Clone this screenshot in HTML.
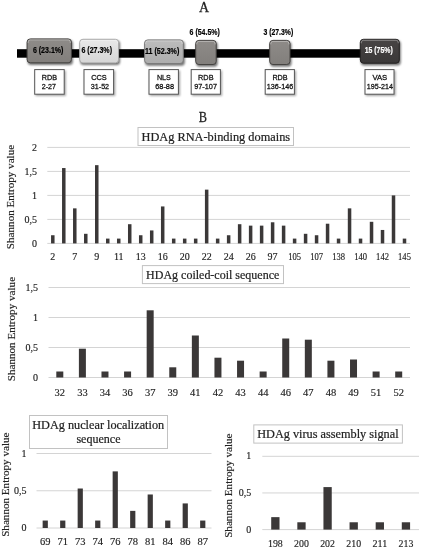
<!DOCTYPE html>
<html><head><meta charset="utf-8"><title>Figure</title>
<style>
html,body{margin:0;padding:0;background:#fff;}
body{width:422px;height:550px;overflow:hidden;}
svg{display:block;}
.s{font-family:"Liberation Serif","DejaVu Serif",serif;fill:#222;}
.t{stroke:#222;stroke-width:0.15px;}
.t2{stroke:#222;stroke-width:0.22px;}
.h{font-family:"Liberation Sans","DejaVu Sans",sans-serif;fill:#222;}
</style></head><body>
<svg width="422" height="550" viewBox="0 0 422 550">
<defs>
<linearGradient id="g1" x1="0" y1="0" x2="0" y2="1"><stop offset="0" stop-color="#8e8b88"/><stop offset="1" stop-color="#827f7c"/></linearGradient>
<linearGradient id="g2" x1="0" y1="0" x2="0" y2="1"><stop offset="0" stop-color="#e8e8e8"/><stop offset="1" stop-color="#d6d6d6"/></linearGradient>
<linearGradient id="g3" x1="0" y1="0" x2="0" y2="1"><stop offset="0" stop-color="#bcbcbc"/><stop offset="1" stop-color="#adadad"/></linearGradient>
<linearGradient id="g4" x1="0" y1="0" x2="0" y2="1"><stop offset="0" stop-color="#8e8b88"/><stop offset="1" stop-color="#827f7c"/></linearGradient>
<linearGradient id="g6" x1="0" y1="0" x2="0" y2="1"><stop offset="0" stop-color="#474444"/><stop offset="1" stop-color="#3b3939"/></linearGradient>
<filter id="sh" x="-10%" y="-10%" width="130%" height="140%"><feGaussianBlur stdDeviation="1.2"/></filter>
<filter id="sh2" x="-10%" y="-10%" width="130%" height="140%"><feGaussianBlur stdDeviation="0.9"/></filter>
</defs>
<rect width="422" height="550" fill="#fff"/>

<text class="s" transform="translate(198.9,11.8) scale(0.92,1)" font-size="15.2" style="stroke:#222;stroke-width:0.3">A</text>
<rect x="17" y="49.2" width="345" height="8.5" fill="#000"/>
<rect x="27.6" y="40.1" width="45.300000000000004" height="24.9" rx="3.5" fill="#000" opacity="0.55" filter="url(#sh2)"/>
<rect x="27.1" y="38.9" width="44.300000000000004" height="23.9" rx="3.2" fill="url(#g1)" stroke="#454341" stroke-width="1"/>
<path d="M28.200000000000003,42.9 v-1 a2,2 0 0 1 2,-2 h38.1 a2,2 0 0 1 2,2 v1" fill="none" stroke="#fff" stroke-opacity="0.4" stroke-width="0.9"/>
<text class="h" x="32.9" y="52.8" font-size="8.4" font-weight="bold" textLength="30.5" lengthAdjust="spacingAndGlyphs" style="fill:#000;stroke:#000;stroke-width:0.18">6 (23.1%)</text>
<rect x="80.2" y="40.5" width="39.89999999999999" height="24.6" rx="3.5" fill="#000" opacity="0.55" filter="url(#sh2)"/>
<rect x="79.7" y="39.3" width="38.89999999999999" height="23.6" rx="3.2" fill="url(#g2)" stroke="#a8a8a8" stroke-width="1"/>
<path d="M80.8,43.3 v-1 a2,2 0 0 1 2,-2 h32.69999999999999 a2,2 0 0 1 2,2 v1" fill="none" stroke="#fff" stroke-opacity="0.4" stroke-width="0.9"/>
<text class="h" x="81.4" y="52.8" font-size="8.4" font-weight="bold" textLength="30.6" lengthAdjust="spacingAndGlyphs" style="fill:#000;stroke:#000;stroke-width:0.18">6 (27.3%)</text>
<rect x="145.1" y="41.1" width="39.70000000000002" height="24.6" rx="3.5" fill="#000" opacity="0.55" filter="url(#sh2)"/>
<rect x="144.6" y="39.9" width="38.70000000000002" height="23.6" rx="3.2" fill="url(#g3)" stroke="#7a7a7a" stroke-width="1"/>
<path d="M145.7,43.9 v-1 a2,2 0 0 1 2,-2 h32.500000000000014 a2,2 0 0 1 2,2 v1" fill="none" stroke="#fff" stroke-opacity="0.4" stroke-width="0.9"/>
<text class="h" x="145.0" y="53.8" font-size="8.4" font-weight="bold" textLength="34.3" lengthAdjust="spacingAndGlyphs" style="fill:#000;stroke:#000;stroke-width:0.18">11 (52.3%)</text>
<rect x="196.2" y="41.6" width="21.5" height="25.1" rx="3.5" fill="#000" opacity="0.55" filter="url(#sh2)"/>
<rect x="195.7" y="40.4" width="20.5" height="24.1" rx="3.2" fill="url(#g4)" stroke="#454341" stroke-width="1"/>
<path d="M196.79999999999998,44.4 v-1 a2,2 0 0 1 2,-2 h14.3 a2,2 0 0 1 2,2 v1" fill="none" stroke="#fff" stroke-opacity="0.4" stroke-width="0.9"/>
<rect x="270.2" y="41.6" width="21.30000000000001" height="25.1" rx="3.5" fill="#000" opacity="0.55" filter="url(#sh2)"/>
<rect x="269.7" y="40.4" width="20.30000000000001" height="24.1" rx="3.2" fill="url(#g4)" stroke="#454341" stroke-width="1"/>
<path d="M270.8,44.4 v-1 a2,2 0 0 1 2,-2 h14.100000000000012 a2,2 0 0 1 2,2 v1" fill="none" stroke="#fff" stroke-opacity="0.4" stroke-width="0.9"/>
<rect x="360.8" y="40.5" width="40.0" height="24.900000000000006" rx="3.5" fill="#000" opacity="0.55" filter="url(#sh2)"/>
<rect x="360.3" y="39.3" width="39.0" height="23.900000000000006" rx="3.2" fill="url(#g6)" stroke="#242222" stroke-width="1"/>
<path d="M361.40000000000003,43.3 v-1 a2,2 0 0 1 2,-2 h32.8 a2,2 0 0 1 2,2 v1" fill="none" stroke="#fff" stroke-opacity="0.4" stroke-width="0.9"/>
<text class="h" x="364.7" y="53.3" font-size="8.4" font-weight="bold" textLength="28.0" lengthAdjust="spacingAndGlyphs" style="fill:#fff;stroke:#fff;stroke-width:0.18">15 (75%)</text>
<text class="h" x="189.6" y="35" font-size="8.4" font-weight="bold" textLength="30.2" lengthAdjust="spacingAndGlyphs" style="fill:#000;stroke:#000;stroke-width:0.18">6 (54.5%)</text>
<text class="h" x="263.5" y="35" font-size="8.4" font-weight="bold" textLength="29.7" lengthAdjust="spacingAndGlyphs" style="fill:#000;stroke:#000;stroke-width:0.18">3 (27.3%)</text>
<rect x="35.400000000000006" y="70.6" width="30.5" height="25.4" fill="#000" opacity="0.35" filter="url(#sh)"/>
<rect x="34.7" y="69.6" width="29.5" height="24.6" fill="#fff" stroke="#555" stroke-width="1"/>
<text class="h" x="41.8" y="79.9" font-size="8" textLength="15.2" lengthAdjust="spacingAndGlyphs" style="fill:#111;stroke:#111;stroke-width:0.28">RDB</text>
<text class="h" x="41.8" y="88.5" font-size="8" textLength="14.2" lengthAdjust="spacingAndGlyphs" style="fill:#111;stroke:#111;stroke-width:0.28">2-27</text>
<rect x="84.7" y="70.6" width="30.599999999999994" height="25.4" fill="#000" opacity="0.35" filter="url(#sh)"/>
<rect x="84.0" y="69.6" width="29.599999999999994" height="24.6" fill="#fff" stroke="#555" stroke-width="1"/>
<text class="h" x="91.2" y="79.9" font-size="8" textLength="15.6" lengthAdjust="spacingAndGlyphs" style="fill:#111;stroke:#111;stroke-width:0.28">CCS</text>
<text class="h" x="90.8" y="88.5" font-size="8" textLength="18.3" lengthAdjust="spacingAndGlyphs" style="fill:#111;stroke:#111;stroke-width:0.28">31-52</text>
<rect x="149.7" y="70.6" width="30.400000000000006" height="25.4" fill="#000" opacity="0.35" filter="url(#sh)"/>
<rect x="149.0" y="69.6" width="29.400000000000006" height="24.6" fill="#fff" stroke="#555" stroke-width="1"/>
<text class="h" x="156.9" y="79.9" font-size="8" textLength="13.9" lengthAdjust="spacingAndGlyphs" style="fill:#111;stroke:#111;stroke-width:0.28">NLS</text>
<text class="h" x="155.2" y="88.5" font-size="8" textLength="18.9" lengthAdjust="spacingAndGlyphs" style="fill:#111;stroke:#111;stroke-width:0.28">68-88</text>
<rect x="191.89999999999998" y="70.6" width="30.200000000000017" height="25.4" fill="#000" opacity="0.35" filter="url(#sh)"/>
<rect x="191.2" y="69.6" width="29.200000000000017" height="24.6" fill="#fff" stroke="#555" stroke-width="1"/>
<text class="h" x="198.1" y="79.9" font-size="8" textLength="15.4" lengthAdjust="spacingAndGlyphs" style="fill:#111;stroke:#111;stroke-width:0.28">RDB</text>
<text class="h" x="194.2" y="88.5" font-size="8" textLength="22.8" lengthAdjust="spacingAndGlyphs" style="fill:#111;stroke:#111;stroke-width:0.28">97-107</text>
<rect x="265.9" y="70.6" width="30.19999999999999" height="25.4" fill="#000" opacity="0.35" filter="url(#sh)"/>
<rect x="265.2" y="69.6" width="29.19999999999999" height="24.6" fill="#fff" stroke="#555" stroke-width="1"/>
<text class="h" x="272.4" y="79.9" font-size="8" textLength="15.2" lengthAdjust="spacingAndGlyphs" style="fill:#111;stroke:#111;stroke-width:0.28">RDB</text>
<text class="h" x="266.8" y="88.5" font-size="8" textLength="26.4" lengthAdjust="spacingAndGlyphs" style="fill:#111;stroke:#111;stroke-width:0.28">136-146</text>
<rect x="365.7" y="70.6" width="30.0" height="25.4" fill="#000" opacity="0.35" filter="url(#sh)"/>
<rect x="365.0" y="69.6" width="29.0" height="24.6" fill="#fff" stroke="#555" stroke-width="1"/>
<text class="h" x="372.4" y="79.9" font-size="8" textLength="14.8" lengthAdjust="spacingAndGlyphs" style="fill:#111;stroke:#111;stroke-width:0.28">VAS</text>
<text class="h" x="366.8" y="88.5" font-size="8" textLength="26.1" lengthAdjust="spacingAndGlyphs" style="fill:#111;stroke:#111;stroke-width:0.28">195-214</text>
<text class="s" transform="translate(198.7,122.3) scale(0.8,1)" font-size="15.4" style="stroke:#222;stroke-width:0.3">B</text>
<line x1="47.3" x2="410" y1="243.40" y2="243.40" stroke="#d4d4d4" stroke-width="1"/>
<text class="s t" x="37" y="246.50" font-size="10" text-anchor="end">0</text>
<line x1="47.3" x2="410" y1="219.40" y2="219.40" stroke="#d4d4d4" stroke-width="1"/>
<text class="s t" x="37" y="222.50" font-size="10" text-anchor="end">0,5</text>
<line x1="47.3" x2="410" y1="195.40" y2="195.40" stroke="#d4d4d4" stroke-width="1"/>
<text class="s t" x="37" y="198.50" font-size="10" text-anchor="end">1</text>
<line x1="47.3" x2="410" y1="171.40" y2="171.40" stroke="#d4d4d4" stroke-width="1"/>
<text class="s t" x="37" y="174.50" font-size="10" text-anchor="end">1,5</text>
<line x1="47.3" x2="410" y1="147.40" y2="147.40" stroke="#d4d4d4" stroke-width="1"/>
<text class="s t" x="37" y="150.50" font-size="10" text-anchor="end">2</text>
<rect x="51.05" y="235.24" width="3.5" height="8.16" fill="#3b3838"/>
<text class="s t" x="52.80" y="259.80" font-size="10" text-anchor="middle">2</text>
<rect x="62.04" y="168.04" width="3.5" height="75.36" fill="#3b3838"/>
<rect x="73.03" y="208.36" width="3.5" height="35.04" fill="#3b3838"/>
<text class="s t" x="74.78" y="259.80" font-size="10" text-anchor="middle">7</text>
<rect x="84.02" y="233.80" width="3.5" height="9.60" fill="#3b3838"/>
<rect x="95.01" y="165.16" width="3.5" height="78.24" fill="#3b3838"/>
<text class="s t" x="96.76" y="259.80" font-size="10" text-anchor="middle">9</text>
<rect x="106.00" y="238.60" width="3.5" height="4.80" fill="#3b3838"/>
<rect x="116.99" y="238.60" width="3.5" height="4.80" fill="#3b3838"/>
<text class="s t" x="118.74" y="259.80" font-size="10" text-anchor="middle">11</text>
<rect x="127.98" y="224.20" width="3.5" height="19.20" fill="#3b3838"/>
<rect x="138.97" y="235.24" width="3.5" height="8.16" fill="#3b3838"/>
<text class="s t" x="140.72" y="259.80" font-size="10" text-anchor="middle">13</text>
<rect x="149.96" y="230.44" width="3.5" height="12.96" fill="#3b3838"/>
<rect x="160.95" y="206.44" width="3.5" height="36.96" fill="#3b3838"/>
<text class="s t" x="162.70" y="259.80" font-size="10" text-anchor="middle">16</text>
<rect x="171.95" y="238.60" width="3.5" height="4.80" fill="#3b3838"/>
<rect x="182.94" y="238.60" width="3.5" height="4.80" fill="#3b3838"/>
<text class="s t" x="184.69" y="259.80" font-size="10" text-anchor="middle">20</text>
<rect x="193.93" y="238.60" width="3.5" height="4.80" fill="#3b3838"/>
<rect x="204.92" y="189.64" width="3.5" height="53.76" fill="#3b3838"/>
<text class="s t" x="206.67" y="259.80" font-size="10" text-anchor="middle">22</text>
<rect x="215.91" y="238.60" width="3.5" height="4.80" fill="#3b3838"/>
<rect x="226.90" y="235.24" width="3.5" height="8.16" fill="#3b3838"/>
<text class="s t" x="228.65" y="259.80" font-size="10" text-anchor="middle">24</text>
<rect x="237.89" y="224.20" width="3.5" height="19.20" fill="#3b3838"/>
<rect x="248.88" y="225.64" width="3.5" height="17.76" fill="#3b3838"/>
<text class="s t" x="250.63" y="259.80" font-size="10" text-anchor="middle">26</text>
<rect x="259.87" y="225.64" width="3.5" height="17.76" fill="#3b3838"/>
<rect x="270.86" y="222.28" width="3.5" height="21.12" fill="#3b3838"/>
<text class="s t" x="272.61" y="259.80" font-size="10" text-anchor="middle">97</text>
<rect x="281.85" y="225.64" width="3.5" height="17.76" fill="#3b3838"/>
<rect x="292.85" y="238.60" width="3.5" height="4.80" fill="#3b3838"/>
<text class="s t" x="294.60" y="259.80" font-size="10" text-anchor="middle" textLength="12.8" lengthAdjust="spacingAndGlyphs">105</text>
<rect x="303.84" y="233.80" width="3.5" height="9.60" fill="#3b3838"/>
<rect x="314.83" y="235.24" width="3.5" height="8.16" fill="#3b3838"/>
<text class="s t" x="316.58" y="259.80" font-size="10" text-anchor="middle" textLength="12.8" lengthAdjust="spacingAndGlyphs">107</text>
<rect x="325.82" y="223.72" width="3.5" height="19.68" fill="#3b3838"/>
<rect x="336.81" y="238.60" width="3.5" height="4.80" fill="#3b3838"/>
<text class="s t" x="338.56" y="259.80" font-size="10" text-anchor="middle" textLength="12.8" lengthAdjust="spacingAndGlyphs">138</text>
<rect x="347.80" y="208.36" width="3.5" height="35.04" fill="#3b3838"/>
<rect x="358.79" y="238.60" width="3.5" height="4.80" fill="#3b3838"/>
<text class="s t" x="360.54" y="259.80" font-size="10" text-anchor="middle" textLength="12.8" lengthAdjust="spacingAndGlyphs">140</text>
<rect x="369.78" y="221.80" width="3.5" height="21.60" fill="#3b3838"/>
<rect x="380.77" y="229.96" width="3.5" height="13.44" fill="#3b3838"/>
<text class="s t" x="382.52" y="259.80" font-size="10" text-anchor="middle" textLength="12.8" lengthAdjust="spacingAndGlyphs">142</text>
<rect x="391.76" y="195.40" width="3.5" height="48.00" fill="#3b3838"/>
<rect x="402.75" y="238.60" width="3.5" height="4.80" fill="#3b3838"/>
<text class="s t" x="404.50" y="259.80" font-size="10" text-anchor="middle" textLength="12.8" lengthAdjust="spacingAndGlyphs">145</text>
<rect x="138" y="127.5" width="155.5" height="18" fill="#fff" stroke="#c2c2c2" stroke-width="1"/>
<text class="s t2" x="141.5" y="141.0" font-size="13" textLength="148.6" lengthAdjust="spacingAndGlyphs">HDAg RNA-binding domains</text>
<text class="s t" transform="translate(14,197) rotate(-90)" font-size="10" text-anchor="middle" textLength="104.3" lengthAdjust="spacingAndGlyphs">Shannon Entropy value</text>
<line x1="48.5" x2="410" y1="377.50" y2="377.50" stroke="#d4d4d4" stroke-width="1"/>
<text class="s t" x="38" y="380.60" font-size="10" text-anchor="end">0</text>
<line x1="48.5" x2="410" y1="347.50" y2="347.50" stroke="#d4d4d4" stroke-width="1"/>
<text class="s t" x="38" y="350.60" font-size="10" text-anchor="end">0,5</text>
<line x1="48.5" x2="410" y1="317.50" y2="317.50" stroke="#d4d4d4" stroke-width="1"/>
<text class="s t" x="38" y="320.60" font-size="10" text-anchor="end">1</text>
<line x1="48.5" x2="410" y1="287.50" y2="287.50" stroke="#d4d4d4" stroke-width="1"/>
<text class="s t" x="38" y="290.60" font-size="10" text-anchor="end">1,5</text>
<rect x="56.30" y="371.50" width="7" height="6.00" fill="#3b3838"/>
<text class="s t" x="59.80" y="395.70" font-size="10.5" text-anchor="middle">32</text>
<rect x="78.89" y="348.70" width="7" height="28.80" fill="#3b3838"/>
<text class="s t" x="82.39" y="395.70" font-size="10.5" text-anchor="middle">33</text>
<rect x="101.48" y="371.50" width="7" height="6.00" fill="#3b3838"/>
<text class="s t" x="104.98" y="395.70" font-size="10.5" text-anchor="middle">34</text>
<rect x="124.08" y="371.50" width="7" height="6.00" fill="#3b3838"/>
<text class="s t" x="127.58" y="395.70" font-size="10.5" text-anchor="middle">36</text>
<rect x="146.67" y="310.30" width="7" height="67.20" fill="#3b3838"/>
<text class="s t" x="150.17" y="395.70" font-size="10.5" text-anchor="middle">37</text>
<rect x="169.27" y="367.30" width="7" height="10.20" fill="#3b3838"/>
<text class="s t" x="172.77" y="395.70" font-size="10.5" text-anchor="middle">39</text>
<rect x="191.86" y="335.50" width="7" height="42.00" fill="#3b3838"/>
<text class="s t" x="195.36" y="395.70" font-size="10.5" text-anchor="middle">41</text>
<rect x="214.45" y="357.70" width="7" height="19.80" fill="#3b3838"/>
<text class="s t" x="217.95" y="395.70" font-size="10.5" text-anchor="middle">42</text>
<rect x="237.05" y="360.70" width="7" height="16.80" fill="#3b3838"/>
<text class="s t" x="240.55" y="395.70" font-size="10.5" text-anchor="middle">43</text>
<rect x="259.64" y="371.50" width="7" height="6.00" fill="#3b3838"/>
<text class="s t" x="263.14" y="395.70" font-size="10.5" text-anchor="middle">44</text>
<rect x="282.23" y="338.50" width="7" height="39.00" fill="#3b3838"/>
<text class="s t" x="285.73" y="395.70" font-size="10.5" text-anchor="middle">46</text>
<rect x="304.83" y="339.70" width="7" height="37.80" fill="#3b3838"/>
<text class="s t" x="308.33" y="395.70" font-size="10.5" text-anchor="middle">47</text>
<rect x="327.42" y="360.70" width="7" height="16.80" fill="#3b3838"/>
<text class="s t" x="330.92" y="395.70" font-size="10.5" text-anchor="middle">48</text>
<rect x="350.02" y="359.50" width="7" height="18.00" fill="#3b3838"/>
<text class="s t" x="353.52" y="395.70" font-size="10.5" text-anchor="middle">49</text>
<rect x="372.61" y="371.50" width="7" height="6.00" fill="#3b3838"/>
<text class="s t" x="376.11" y="395.70" font-size="10.5" text-anchor="middle">51</text>
<rect x="395.20" y="371.50" width="7" height="6.00" fill="#3b3838"/>
<text class="s t" x="398.70" y="395.70" font-size="10.5" text-anchor="middle">52</text>
<rect x="142.4" y="265.6" width="141.1" height="18" fill="#fff" stroke="#c2c2c2" stroke-width="1"/>
<text class="s t2" x="146.1" y="279" font-size="13" textLength="133.2" lengthAdjust="spacingAndGlyphs">HDAg coiled-coil sequence</text>
<text class="s t" transform="translate(14.8,329.1) rotate(-90)" font-size="10" text-anchor="middle" textLength="104.3" lengthAdjust="spacingAndGlyphs">Shannon Entropy value</text>
<line x1="36.5" x2="211.5" y1="528.00" y2="528.00" stroke="#d4d4d4" stroke-width="1"/>
<text class="s t" x="26.5" y="531.10" font-size="10" text-anchor="end">0</text>
<line x1="36.5" x2="211.5" y1="490.75" y2="490.75" stroke="#d4d4d4" stroke-width="1"/>
<text class="s t" x="26.5" y="493.85" font-size="10" text-anchor="end">0,5</text>
<line x1="36.5" x2="211.5" y1="453.50" y2="453.50" stroke="#d4d4d4" stroke-width="1"/>
<text class="s t" x="26.5" y="456.60" font-size="10" text-anchor="end">1</text>
<rect x="42.65" y="520.55" width="5.2" height="7.45" fill="#3b3838"/>
<text class="s t" x="45.25" y="545.00" font-size="10.5" text-anchor="middle">69</text>
<rect x="60.15" y="520.55" width="5.2" height="7.45" fill="#3b3838"/>
<text class="s t" x="62.75" y="545.00" font-size="10.5" text-anchor="middle">71</text>
<rect x="77.65" y="488.51" width="5.2" height="39.48" fill="#3b3838"/>
<text class="s t" x="80.25" y="545.00" font-size="10.5" text-anchor="middle">73</text>
<rect x="95.15" y="520.55" width="5.2" height="7.45" fill="#3b3838"/>
<text class="s t" x="97.75" y="545.00" font-size="10.5" text-anchor="middle">74</text>
<rect x="112.65" y="471.38" width="5.2" height="56.62" fill="#3b3838"/>
<text class="s t" x="115.25" y="545.00" font-size="10.5" text-anchor="middle">76</text>
<rect x="130.15" y="510.87" width="5.2" height="17.14" fill="#3b3838"/>
<text class="s t" x="132.75" y="545.00" font-size="10.5" text-anchor="middle">78</text>
<rect x="147.65" y="494.48" width="5.2" height="33.52" fill="#3b3838"/>
<text class="s t" x="150.25" y="545.00" font-size="10.5" text-anchor="middle">81</text>
<rect x="165.15" y="520.55" width="5.2" height="7.45" fill="#3b3838"/>
<text class="s t" x="167.75" y="545.00" font-size="10.5" text-anchor="middle">84</text>
<rect x="182.65" y="503.42" width="5.2" height="24.59" fill="#3b3838"/>
<text class="s t" x="185.25" y="545.00" font-size="10.5" text-anchor="middle">86</text>
<rect x="200.15" y="520.55" width="5.2" height="7.45" fill="#3b3838"/>
<text class="s t" x="202.75" y="545.00" font-size="10.5" text-anchor="middle">87</text>
<rect x="29.5" y="415.5" width="138" height="33" fill="#fff" stroke="#c2c2c2" stroke-width="1"/>
<text class="s t2" x="32.2" y="428.6" font-size="13" textLength="132.0" lengthAdjust="spacingAndGlyphs">HDAg nuclear localization</text>
<text class="s t2" x="76.4" y="443.2" font-size="13" textLength="44.1" lengthAdjust="spacingAndGlyphs">sequence</text>
<text class="s t" transform="translate(9,484.7) rotate(-90)" font-size="10" text-anchor="middle" textLength="104.3" lengthAdjust="spacingAndGlyphs">Shannon Entropy value</text>
<line x1="262.3" x2="419" y1="529.60" y2="529.60" stroke="#d4d4d4" stroke-width="1"/>
<text class="s t" x="251.3" y="532.70" font-size="10" text-anchor="end">0</text>
<line x1="262.3" x2="419" y1="492.95" y2="492.95" stroke="#d4d4d4" stroke-width="1"/>
<text class="s t" x="251.3" y="496.05" font-size="10" text-anchor="end">0,5</text>
<line x1="262.3" x2="419" y1="456.30" y2="456.30" stroke="#d4d4d4" stroke-width="1"/>
<text class="s t" x="251.3" y="459.40" font-size="10" text-anchor="end">1</text>
<rect x="271.21" y="517.14" width="8.3" height="12.46" fill="#3b3838"/>
<text class="s t" x="275.36" y="547.00" font-size="10.5" text-anchor="middle" textLength="14.8" lengthAdjust="spacingAndGlyphs">198</text>
<rect x="297.33" y="522.27" width="8.3" height="7.33" fill="#3b3838"/>
<text class="s t" x="301.48" y="547.00" font-size="10.5" text-anchor="middle" textLength="14.8" lengthAdjust="spacingAndGlyphs">200</text>
<rect x="323.44" y="487.09" width="8.3" height="42.51" fill="#3b3838"/>
<text class="s t" x="327.59" y="547.00" font-size="10.5" text-anchor="middle" textLength="14.8" lengthAdjust="spacingAndGlyphs">202</text>
<rect x="349.56" y="522.27" width="8.3" height="7.33" fill="#3b3838"/>
<text class="s t" x="353.71" y="547.00" font-size="10.5" text-anchor="middle" textLength="14.8" lengthAdjust="spacingAndGlyphs">210</text>
<rect x="375.68" y="522.27" width="8.3" height="7.33" fill="#3b3838"/>
<text class="s t" x="379.82" y="547.00" font-size="10.5" text-anchor="middle" textLength="14.8" lengthAdjust="spacingAndGlyphs">211</text>
<rect x="401.79" y="522.27" width="8.3" height="7.33" fill="#3b3838"/>
<text class="s t" x="405.94" y="547.00" font-size="10.5" text-anchor="middle" textLength="14.8" lengthAdjust="spacingAndGlyphs">213</text>
<rect x="253.8" y="424.9" width="148.6" height="18.2" fill="#fff" stroke="#c2c2c2" stroke-width="1"/>
<text class="s t2" x="257.2" y="438.3" font-size="13" textLength="141.4" lengthAdjust="spacingAndGlyphs">HDAg virus assembly signal</text>
<text class="s t" transform="translate(231.7,485.7) rotate(-90)" font-size="10" text-anchor="middle" textLength="104.3" lengthAdjust="spacingAndGlyphs">Shannon Entropy value</text>
</svg></body></html>
